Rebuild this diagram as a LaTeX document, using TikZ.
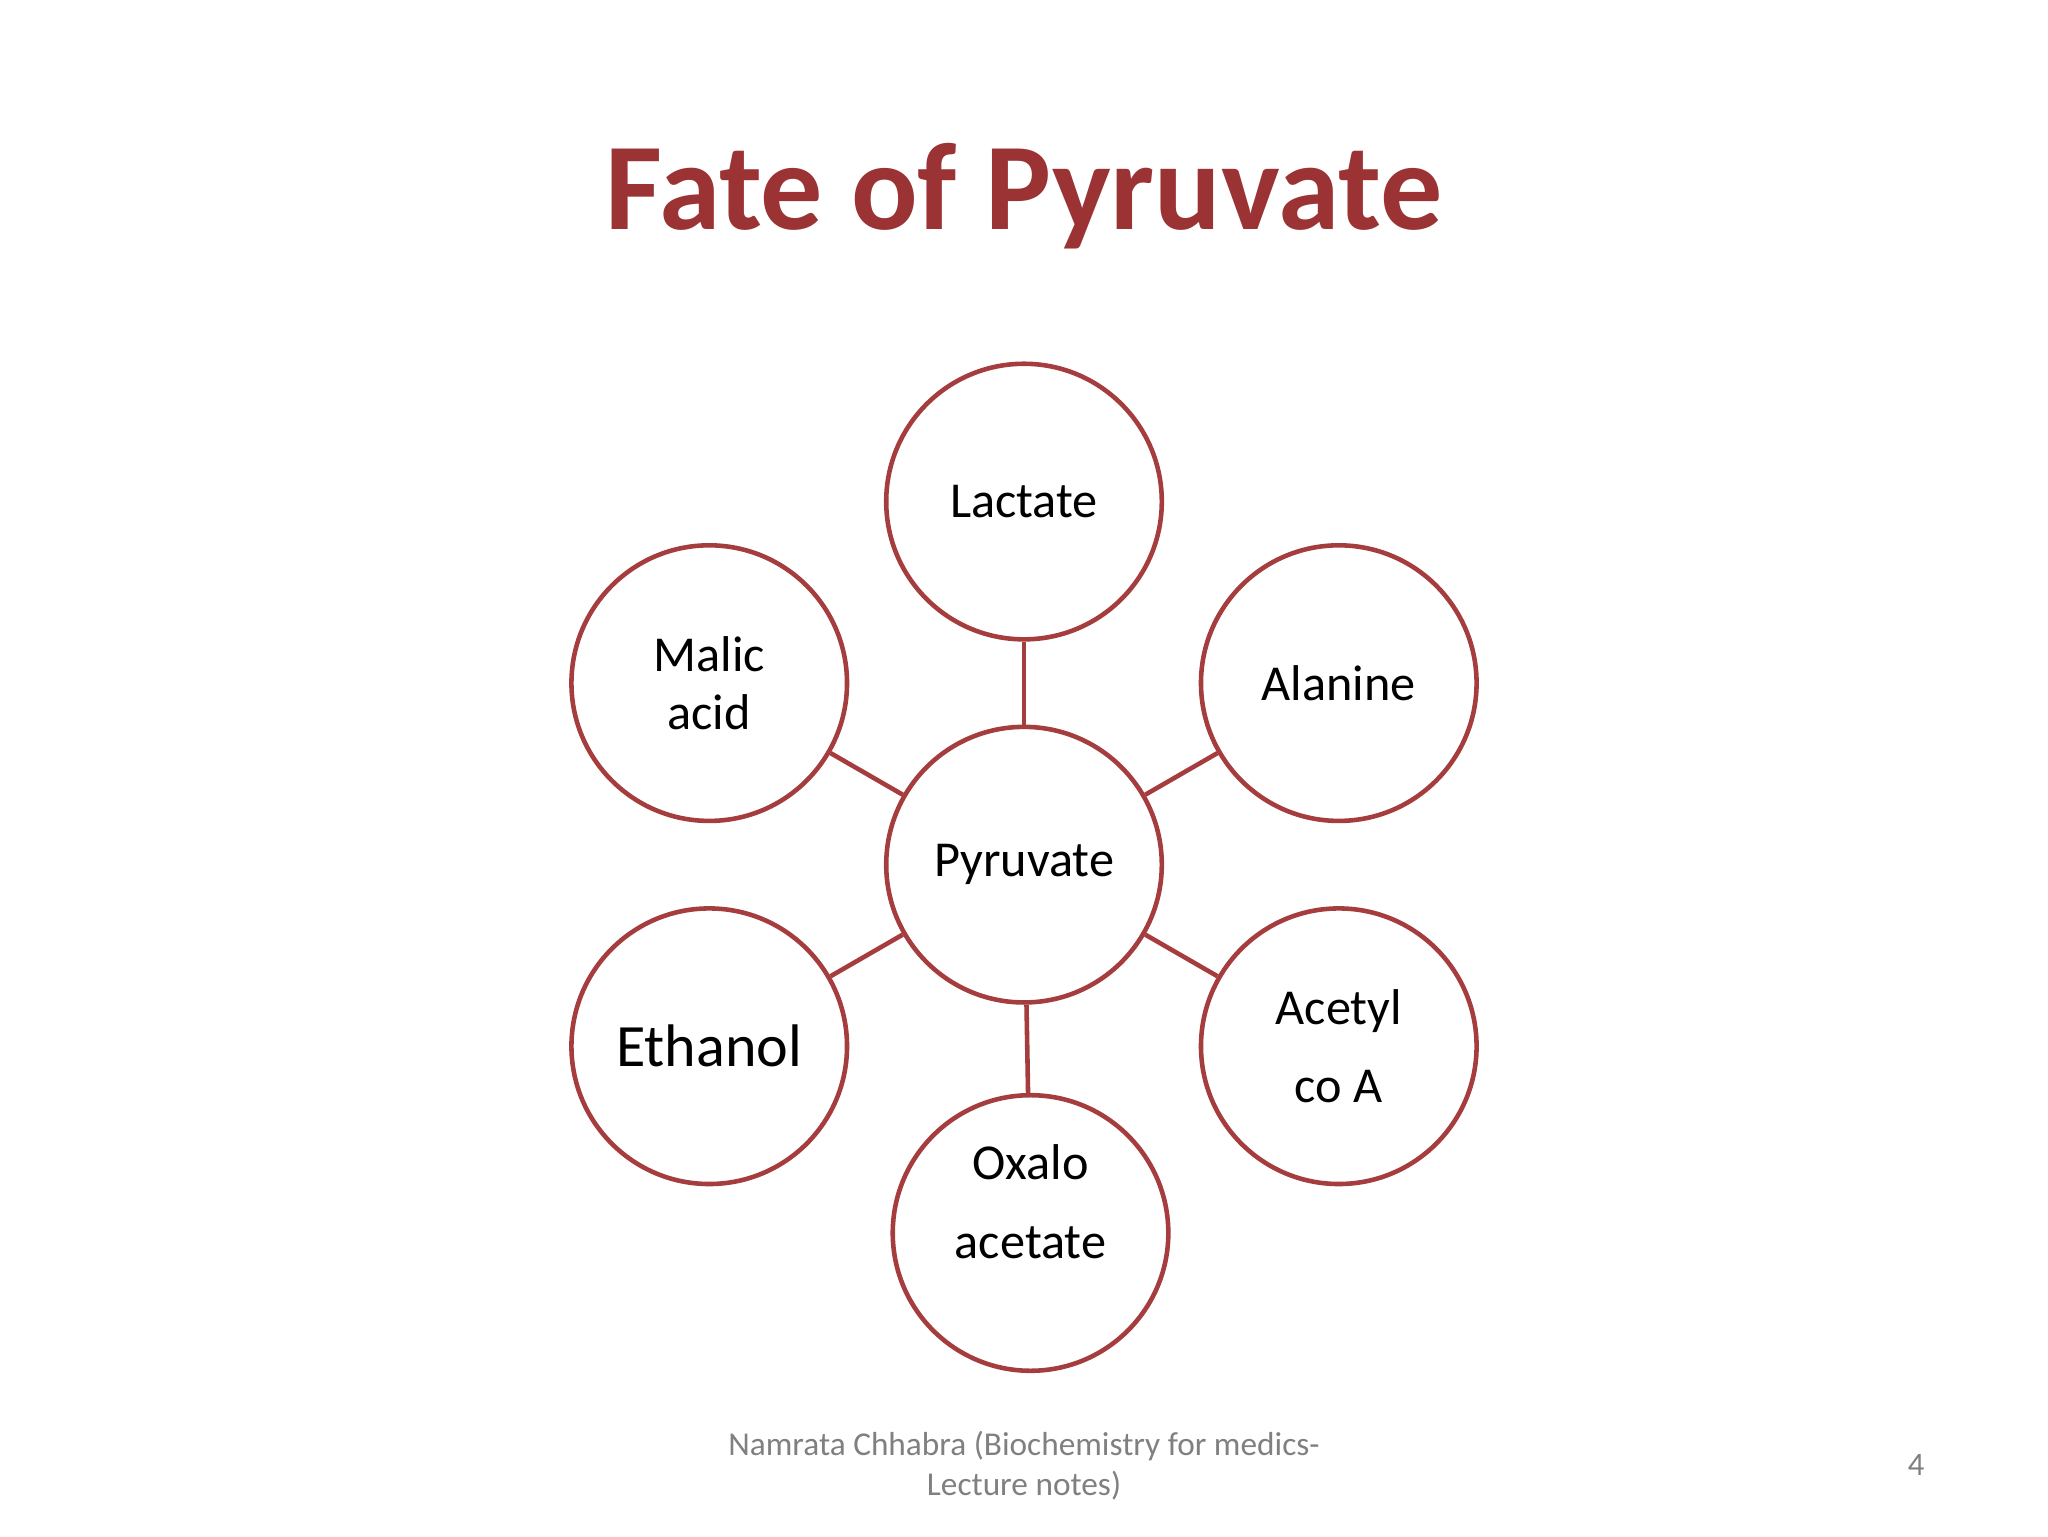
\documentclass[tikz,border=0pt]{standalone}
\usepackage{fontspec}
\setmainfont{Carlito}
\definecolor{ring}{RGB}{165,60,62}
\definecolor{ttl}{RGB}{155,50,52}
\definecolor{foot}{RGB}{128,128,128}
\begin{document}
\begin{tikzpicture}[x=1pt,y=-1pt,
  bub/.style={circle,draw=ring,line width=3.5pt,fill=white,minimum size=211pt,inner sep=0pt,align=center,font=\fontsize{38.5}{44}\selectfont},
  lnk/.style={draw=ring,line width=3.5pt}]
\useasboundingbox (0,0) rectangle (1568,1176);
\node[font=\bfseries\fontsize{95}{100}\selectfont,text=ttl] (title) at (784,150) {Fate of Pyruvate};
\node[bub] (pyr) at (784,662) {Pyruvate};
\node[bub] (lac) at (784,384) {Lactate};
\node[bub] (mal) at (543,523) {Malic\\acid};
\node[bub] (ala) at (1025,523) {Alanine};
\node[bub] (eth) at (543,801) {\fontsize{46}{50}\selectfont Ethanol};
\node[bub,font=\fontsize{38.5}{60}\selectfont] (ace) at (1025,801) {Acetyl\\co A};
\node[bub] (oxa) at (789,944) {};
\node[font=\fontsize{38.5}{60}\selectfont,align=center] (oxat) at (789,920) {Oxalo\\acetate};
\foreach \n in {lac,mal,ala,eth,ace,oxa} \draw[lnk] (pyr) -- (\n);
\node[font=\fontsize{25.5}{31}\selectfont,text=foot,align=center] (ft) at (784,1122) {Namrata Chhabra (Biochemistry for medics-\\Lecture notes)};
\node[font=\fontsize{25}{30}\selectfont,text=foot] (pg) at (1467,1122) {4};
\end{tikzpicture}
\end{document}
